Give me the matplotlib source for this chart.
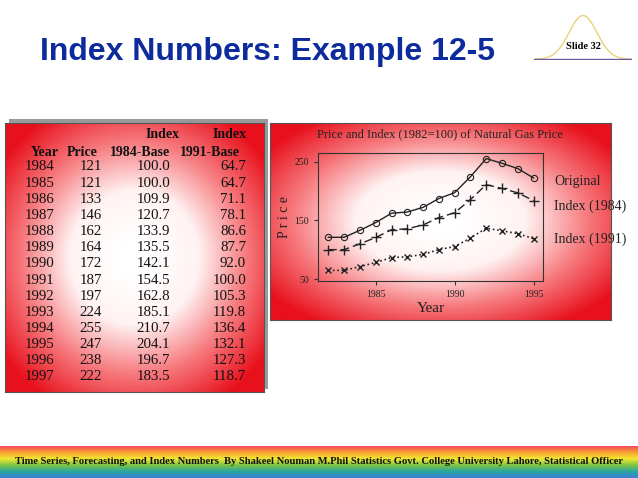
import numpy as np
import matplotlib.pyplot as plt
from matplotlib.colors import LinearSegmentedColormap

# table data
years = [1984, 1985, 1986, 1987, 1988, 1989, 1990, 1991, 1992, 1993, 1994, 1995, 1996, 1997]
price = [121, 121, 133, 146, 162, 164, 172, 187, 197, 224, 255, 247, 238, 222]
idx84 = [100.0, 100.0, 109.9, 120.7, 133.9, 135.5, 142.1, 154.5, 162.8, 185.1, 210.7, 204.1, 196.7, 183.5]
idx91 = [64.7, 64.7, 71.1, 78.1, 86.6, 87.7, 92.0, 100.0, 105.3, 119.8, 136.4, 132.1, 127.3, 118.7]
# the chart on the slide is drawn against 1982..1995
plot_years = list(range(1982, 1996))

W, H = 638, 478
fig = plt.figure(figsize=(W / 100, H / 100), dpi=100)
fig.patch.set_facecolor('white')

def box(x0, y0, x1, y1):
    return [x0 / W, 1 - y1 / H, (x1 - x0) / W, (y1 - y0) / H]

red = LinearSegmentedColormap.from_list('rw', ['white', '#fff2f2', '#f6787c', '#e8101c'])

def radial(ax):
    xx, yy = np.meshgrid(np.linspace(-1, 1, 300), np.linspace(-1, 1, 300))
    r = np.sqrt(xx ** 2 + yy ** 2) / 1.25
    ax.imshow(np.clip(r, 0, 1), cmap=red, extent=[0, 1, 0, 1], aspect='auto', vmin=0.1, vmax=1.0)
    ax.set_xlim(0, 1)
    ax.set_ylim(0, 1)
    ax.set_xticks([])
    ax.set_yticks([])

serif = 'Liberation Serif'

# title
fig.text(40 / W, 1 - 52 / H, 'Index Numbers: Example 12-5', fontsize=23, fontweight='bold',
         color='#0d2b9c', family='Liberation Sans', va='center')

# slide badge with bell curve
axb = fig.add_axes(box(534, 12, 632, 60))
bx = np.linspace(-3.4, 3.4, 200)
axb.plot(bx, np.exp(-bx ** 2 / 2), color='#e8d27a', lw=1)
axb.axhline(0.0, color='#6a5aa8', lw=1)
axb.set_xlim(-3.5, 3.5)
axb.set_ylim(-0.02, 1.08)
axb.axis('off')
axb.text(0, 0.3, 'Slide 32', ha='center', va='center', fontsize=7.5, fontweight='bold', family=serif)

# table panel with shadow
axs = fig.add_axes(box(9, 119, 268, 389))
axs.set_facecolor('#9a9a9a')
axs.set_xticks([])
axs.set_yticks([])
for s in axs.spines.values():
    s.set_visible(False)
axt = fig.add_axes(box(5, 123, 264, 392))
radial(axt)
for s in axt.spines.values():
    s.set_color('#555555')

def tx(x, y, s, ha='right', bold=False):
    fig.text(x / W, 1 - y / H, s, ha=ha, va='center', fontsize=10 if bold else 10.7, family=serif,
             fontweight='bold' if bold else 'normal', color='#111111')

tx(163, 135, 'Index', ha='center', bold=True)
tx(230, 135, 'Index', ha='center', bold=True)
tx(45, 152, 'Year', ha='center', bold=True)
tx(82, 152, 'Price', ha='center', bold=True)
tx(140, 152, '1984-Base', ha='center', bold=True)
tx(210, 152, '1991-Base', ha='center', bold=True)
for i in range(len(years)):
    y = 167 + i * 16.15
    tx(25, y, str(years[i]), ha='left')
    tx(102, y, str(price[i]))
    tx(170, y, '%.1f' % idx84[i])
    tx(246, y, '%.1f' % idx91[i])

# chart panel
axp = fig.add_axes(box(270, 123, 611, 320))
radial(axp)
for s in axp.spines.values():
    s.set_color('#555555')
fig.text(440 / W, 1 - 134 / H, 'Price and Index (1982=100) of Natural Gas Price', ha='center', va='center',
         fontsize=9, family=serif, color='#222222')

ax = fig.add_axes(box(318, 153, 543, 281))
ax.patch.set_alpha(0)
ax.plot(plot_years, price, '-', color='#222222', lw=1, marker='o', ms=4.5, mfc='none', mew=0.8)
ax.plot(plot_years, idx84, '--', color='#222222', lw=1, marker='+', ms=7, mew=1, dashes=(6, 3))
ax.plot(plot_years, idx91, ':', color='#222222', lw=1.2, marker='x', ms=4.5, mew=1)
ax.set_xlim(1981.34, 1995.6)
ax.set_ylim(46.6, 264.5)
ax.set_xticks([1985, 1990, 1995])
ax.set_yticks([50, 150, 250])
ax.tick_params(labelsize=7, length=3, color='#333333', labelcolor='#222222')
for lab in ax.get_xticklabels() + ax.get_yticklabels():
    lab.set_family(serif)
for s in ax.spines.values():
    s.set_color('#333333')
ax.set_xlabel('Year', fontsize=11, family=serif, labelpad=2, color='#222222')
fig.text(284 / W, 1 - 217 / H, 'P r i c e', rotation=90, ha='center', va='center', fontsize=10,
         family=serif, color='#222222')
for yy, lab in [(182, 'Original'), (206, 'Index (1984)'), (239, 'Index (1991)')]:
    fig.text(554 / W, 1 - yy / H, lab, ha='left', va='center', fontsize=10, family=serif, color='#222222')

# footer rainbow band
axf = fig.add_axes(box(0, 446, W, 478))
rb = LinearSegmentedColormap.from_list('rb', ['#3a7fd5', '#2aa6a0', '#7cc444', '#f2e833', '#f7a531', '#f54a5e'])
axf.imshow(np.linspace(0, 1, 100).reshape(-1, 1)[::-1], cmap=rb, aspect='auto', extent=[0, 1, 0, 1])
axf.axis('off')
fig.text(0.5, 1 - 461 / H, 'Time Series, Forecasting, and Index Numbers  By Shakeel Nouman M.Phil Statistics Govt. College University Lahore, Statistical Officer',
         ha='center', va='center', fontsize=7.6, fontweight='bold', family=serif, color='#111111')

fig.savefig('out.png', dpi=100)
